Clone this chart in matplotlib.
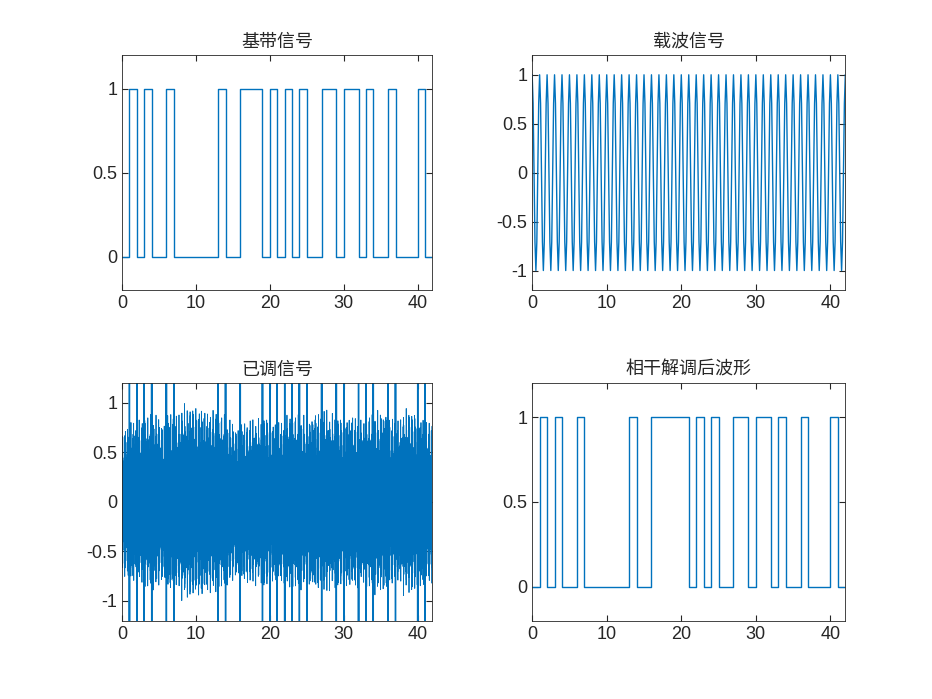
import numpy as np
import matplotlib
matplotlib.use("Agg")
import matplotlib.pyplot as plt

plt.rcParams['font.family'] = ['Liberation Sans', 'Noto Sans CJK SC']

# Bit values, one per unit of time (0..41)
base_bits = [0, 1, 0, 1, 0, 0, 1, 0, 0, 0, 0, 0, 0, 1, 0, 0, 1, 1, 1, 0, 1,
             0, 1, 0, 1, 0, 0, 1, 1, 0, 1, 1, 0, 1, 0, 0, 1, 0, 0, 0, 1, 0]
demod_bits = [0, 1, 0, 1, 0, 0, 1, 0, 0, 0, 0, 0, 0, 1, 0, 0, 1, 1, 1, 1, 1,
              0, 1, 0, 1, 0, 0, 1, 1, 0, 1, 1, 0, 1, 0, 0, 1, 0, 0, 0, 1, 0]
# envelope of modulated signal per bit
mod_env = [0.8, 0.85, 0.85, 0.9, 0.9, 0.85, 0.95, 0.9, 1.0, 1.0, 1.0, 0.95, 0.95,
           0.9, 0.85, 0.8, 0.85, 0.85, 0.85, 0.9, 0.85, 0.85, 0.9, 0.9, 0.9, 0.9,
           0.95, 0.95, 0.9, 0.9, 0.9, 0.9, 0.85, 0.9, 0.95, 0.95, 0.9, 0.85, 0.95,
           0.95, 0.9, 0.85]

blue = "#0072BD"
T = len(base_bits)

tb = np.arange(T + 1)
base_step = base_bits + [base_bits[-1]]
demod_step = demod_bits + [demod_bits[-1]]

# carrier: one cycle per bit, coarsely sampled
tc = np.arange(0, T + 0.001, 0.125)
carrier = np.cos(2 * np.pi * tc)

# modulated signal derived from the carrier and bit envelope
tm = np.arange(0, T, 0.004)
idx = np.minimum(tm.astype(int), T - 1)
env = np.array(mod_env)[idx]
mod = env * (0.7 * np.sin(2 * np.pi * 37.3 * tm) * np.cos(2 * np.pi * 1.3 * tm)
             + 0.3 * np.sin(2 * np.pi * 91.7 * tm + 1.1))
# spikes at bit transitions
trans = [i for i in range(1, T) if base_bits[i] != base_bits[i - 1]]
for k in trans:
    j = int(k / 0.004)
    mod[j - 12:j + 12] = np.tile([2.0, -2.0], 12)

fig = plt.figure(figsize=(9.32, 6.99), dpi=100)
boxes = [[0.131, 0.585, 0.333, 0.336], [0.571, 0.585, 0.336, 0.336],
         [0.131, 0.112, 0.333, 0.340], [0.571, 0.112, 0.336, 0.340]]
axs = [fig.add_axes(b) for b in boxes]

axs[0].step(tb, base_step, where="post", color=blue, lw=1)
axs[0].set_title("基带信号")
axs[0].set_ylim(-0.2, 1.2)
axs[0].set_yticks([0, 0.5, 1])

axs[1].plot(tc, carrier, color=blue, lw=1)
axs[1].set_title("载波信号")
axs[1].set_ylim(-1.2, 1.2)
axs[1].set_yticks([-1, -0.5, 0, 0.5, 1])

axs[2].plot(tm, mod, color=blue, lw=0.6)
axs[2].set_title("已调信号")
axs[2].set_ylim(-1.2, 1.2)
axs[2].set_yticks([-1, -0.5, 0, 0.5, 1])

axs[3].step(tb, demod_step, where="post", color=blue, lw=1)
axs[3].set_title("相干解调后波形")
axs[3].set_ylim(-0.2, 1.2)
axs[3].set_yticks([0, 0.5, 1])

for ax in axs:
    ax.set_xlim(0, 42)
    ax.set_xticks([0, 10, 20, 30, 40])
    ax.set_yticklabels([f"{v:g}" for v in ax.get_yticks()])
    ax.tick_params(direction="in", top=True, right=True, labelsize=13,
                   colors="#262626", length=4)
    ax.title.set_fontsize(13)
    ax.title.set_color("#262626")
    for s in ax.spines.values():
        s.set_color("#262626")
        s.set_linewidth(0.6)

fig.savefig("out.png", dpi=100)
